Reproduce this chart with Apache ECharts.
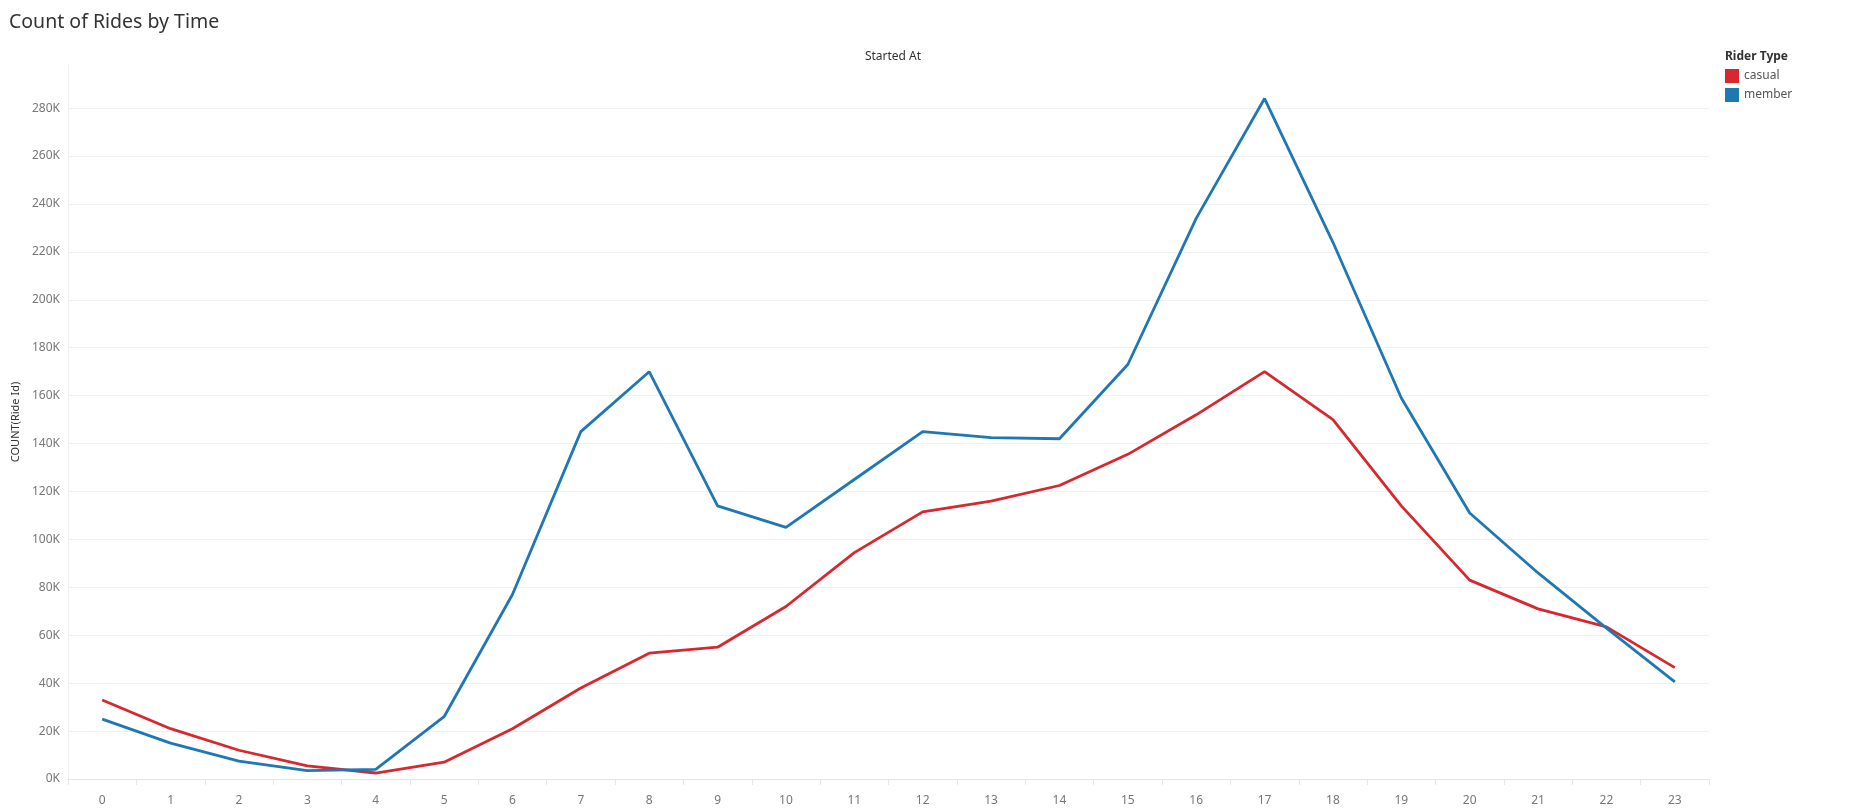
<!DOCTYPE html>
<html><head><meta charset="utf-8">
<script src="https://cdn.jsdelivr.net/npm/echarts@6/dist/echarts.min.js"></script>
<style>html,body{margin:0;padding:0;background:#fff}#c{width:1859px;height:810px}</style>
</head><body><div id="c"></div>
<script>
const hours = ['0','1','2','3','4','5','6','7','8','9','10','11','12','13','14','15','16','17','18','19','20','21','22','23'];
const casual = [33000,21000,12000,5500,2500,7000,21000,38000,52500,55000,72000,94500,111500,116000,122500,135500,152000,170000,150000,114000,83000,71000,63500,46500];
const member = [25000,15000,7500,3500,4000,26000,77000,145000,170000,114000,105000,125000,145000,142500,142000,173000,234000,284000,224000,159000,111000,86000,63000,40500];
const F = 'Noto Sans';
const chart = echarts.init(document.getElementById('c'));
chart.setOption({
  animation:false,
  textStyle:{fontFamily:F},
  title:[
    {text:'Count of Rides by Time',left:4,top:7,textStyle:{fontFamily:F,fontSize:19.5,fontWeight:'normal',color:'#333'}},
    {text:'Started At',left:888,top:46,textAlign:'center',textStyle:{fontFamily:F,fontSize:12,fontWeight:'normal',color:'#333'}},
    {text:'Rider Type',left:1720,top:46,textStyle:{fontFamily:F,fontSize:12,fontWeight:'bold',color:'#333'}}
  ],
  legend:{orient:'vertical',left:1720,top:64,itemWidth:14,itemHeight:14,itemGap:5,icon:'rect',
    textStyle:{fontFamily:F,fontSize:12,color:'#555'},data:['casual','member']},
  grid:{left:68,right:150,top:65,bottom:31},
  xAxis:{type:'category',data:hours,offset:8,boundaryGap:true,
    axisLine:{lineStyle:{color:'#e6e6e6'}},axisTick:{show:true,length:6,lineStyle:{color:'#e6e6e6'}},
    axisLabel:{color:'#777',fontSize:12,margin:8}},
  yAxis:{type:'value',min:0,max:298000,interval:20000,
    name:'COUNT(Ride Id)',nameLocation:'middle',nameGap:46,nameRotate:90,
    nameTextStyle:{color:'#333',fontSize:11},
    axisLine:{show:true,lineStyle:{color:'#eeeeee'}},axisTick:{show:false},
    splitLine:{showMaxLine:false,lineStyle:{color:'#f0f0f0'}},
    axisLabel:{color:'#777',fontSize:12,margin:8,showMaxLabel:false,formatter:v=>(v/1000)+'K'}},
  series:[
    {name:'casual',type:'line',data:casual,showSymbol:false,symbol:'none',lineStyle:{width:2.8,color:'#d7282f'},itemStyle:{color:'#d7282f'}},
    {name:'member',type:'line',data:member,showSymbol:false,symbol:'none',lineStyle:{width:2.8,color:'#1f77b4'},itemStyle:{color:'#1f77b4'}}
  ]
});
</script></body></html>
